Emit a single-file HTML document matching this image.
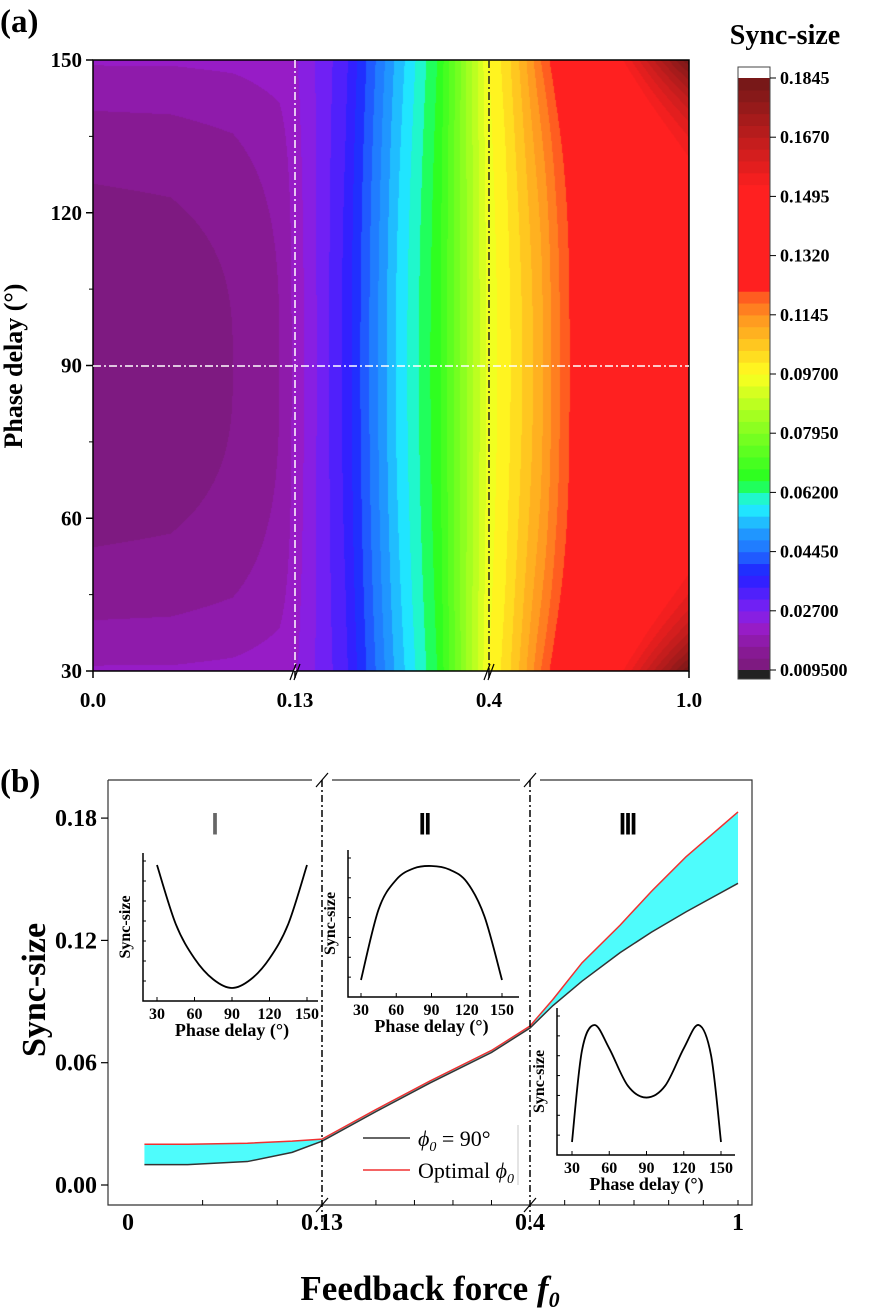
<!DOCTYPE html>
<html><head><meta charset="utf-8">
<style>
html,body{margin:0;padding:0;background:#fff;}
#wrap{position:relative;width:873px;height:1312px;overflow:hidden;font-family:"Liberation Serif",serif;}
canvas{position:absolute;left:93px;top:60px;}
svg{position:absolute;left:0;top:0;}
text{font-family:"Liberation Serif",serif;font-weight:bold;}
</style></head><body>
<div id="wrap">
<canvas id="heat" width="596" height="611"></canvas>
<svg id="svg" width="873" height="1312"></svg>
</div>
<script>
// ---- Panel (a) heatmap data ----
const heatF = [0,0.05,0.09,0.12,0.13,0.2,0.27,0.33,0.4,0.45,0.5,0.555,0.6,0.65,0.7,0.85,1.0];
const heatV90 = [0.011,0.0115,0.013,0.0165,0.021,0.035,0.055,0.068,0.095,0.099,0.104,0.110,0.1165,0.1225,0.128,0.138,0.146];
const heatVEdge = [0.0205,0.0205,0.021,0.022,0.023,0.033,0.052,0.066,0.097,0.102,0.109,0.118,0.124,0.130,0.138,0.160,0.184];
const cbTicks = ["0.1845","0.1670","0.1495","0.1320","0.1145","0.09700","0.07950","0.06200","0.04450","0.02700","0.009500"];
const cbTickVals = [0.1845,0.167,0.1495,0.132,0.1145,0.097,0.0795,0.062,0.0445,0.027,0.0095];
const aXTicks = ["0.0","0.13","0.4","1.0"];
const aXTickVals = [0,0.13,0.4,1.0];
const aYTicks = [150,120,90,60,30];
// ---- Panel (b) data ----
const bF = [0.011,0.04,0.08,0.11,0.13,0.2,0.27,0.35,0.4,0.466,0.55,0.66,0.75,0.85,1.0];
const bBlack = [0.010,0.010,0.0115,0.016,0.0215,0.036,0.050,0.065,0.077,0.088,0.100,0.114,0.124,0.134,0.148];
const bRed = [0.020,0.020,0.0205,0.0215,0.0225,0.037,0.051,0.066,0.078,0.091,0.109,0.1275,0.144,0.161,0.183];
const bYTicks = ["0.00","0.06","0.12","0.18"];
const bYTickVals = [0,0.06,0.12,0.18];
const bXTicks = ["0","0.13","0.4","1"];
const bXTickVals = [0,0.13,0.4,1];
const insetPhi = [30,45,60,75,90,105,120,135,150];
const inset1 = [1.0,0.52,0.24,0.07,0.0,0.07,0.24,0.52,1.0];
const inset2 = [0.0,0.62,0.88,0.98,1.0,0.97,0.86,0.56,0.0];
const inset3Phi = [30,38,48,60,75,90,105,120,132,142,150];
const inset3 = [0.0,0.78,1.0,0.8,0.48,0.38,0.48,0.8,1.0,0.74,0.0];
const insetTicks = [30,60,90,120,150];

const stops=[[0.0095,'#7a1a78'],[0.016,'#8a1a9a'],[0.022,'#981cc8'],[0.027,'#8020f0'],[0.034,'#4020ff'],[0.038,'#2020ff'],[0.0445,'#2070ff'],[0.05,'#2098ff'],[0.057,'#20e8ff'],[0.062,'#20ffb0'],[0.065,'#20ff20'],[0.0795,'#80ff20'],[0.09,'#c8ff20'],[0.097,'#ffff20'],[0.105,'#ffcc20'],[0.113,'#ff9a20'],[0.118,'#ff7020'],[0.1215,'#ff4a20'],[0.1225,'#ff2020'],[0.152,'#ff2020'],[0.1845,'#701818']];
function hex(h){return [parseInt(h.substr(1,2),16),parseInt(h.substr(3,2),16),parseInt(h.substr(5,2),16)];}
function cmap(v){
  if(v<=stops[0][0])return hex(stops[0][1]);
  for(let i=1;i<stops.length;i++){if(v<=stops[i][0]){const a=hex(stops[i-1][1]),b=hex(stops[i][1]);const t=(v-stops[i-1][0])/(stops[i][0]-stops[i-1][0]);return a.map((x,k)=>Math.round(x+(b[k]-x)*t));}}
  return hex(stops[stops.length-1][1]);
}
const LMIN=0.0095,LSTEP=0.0035,NL=50;
function bandColor(v){let i=Math.floor((v-LMIN)/LSTEP);i=Math.max(0,Math.min(NL-1,i));return cmap(LMIN+(i+0.5)*LSTEP);}
function interp(xs,ys,x){if(x<=xs[0])return ys[0];for(let i=1;i<xs.length;i++){if(x<=xs[i]){return ys[i-1]+(ys[i]-ys[i-1])*(x-xs[i-1])/(xs[i]-xs[i-1]);}}return ys[ys.length-1];}
function pw(f,x0,x1,x2,x3){if(f<=0.13)return x0+(x1-x0)*f/0.13;if(f<=0.4)return x1+(x2-x1)*(f-0.13)/0.27;return x2+(x3-x2)*(f-0.4)/0.6;}
function pwInv(x,x0,x1,x2,x3){if(x<=x1)return (x-x0)/(x1-x0)*0.13;if(x<=x2)return 0.13+(x-x1)/(x2-x1)*0.27;return 0.4+(x-x2)/(x3-x2)*0.6;}
const ax=f=>pw(f,93,295,489,689);
const ay=p=>60+(150-p)/120*611;
(function(){
  const c=document.getElementById('heat'),ctx=c.getContext('2d');const img=ctx.createImageData(596,611);
  for(let px=0;px<596;px++){const f=pwInv(93+px+0.5,93,295,489,689);const v9=interp(heatF,heatV90,f),ve=interp(heatF,heatVEdge,f);
    const pow=f<0.13?3:(f<0.5?2:2+(Math.min(f,0.8)-0.5)*8);
    for(let py=0;py<611;py++){const phi=150-(py+0.5)/611*120;const t=Math.abs((phi-90)/60);const p=Math.pow(t,pow);
      const col=bandColor(v9+(ve-v9)*p);const k=(py*596+px)*4;img.data[k]=col[0];img.data[k+1]=col[1];img.data[k+2]=col[2];img.data[k+3]=255;}}
  ctx.putImageData(img,0,0);
})();
const svg=document.getElementById('svg');const NS='http://www.w3.org/2000/svg';
function el(tag,attrs,txt){const e=document.createElementNS(NS,tag);for(const k in attrs)e.setAttribute(k,attrs[k]);if(txt!==undefined)e.textContent=txt;svg.appendChild(e);return e;}
let e;
e=el('text',{x:0,y:32,'font-size':33},'(a)');


e=el('rect',{x:93,y:60,width:596,height:611,fill:'none',stroke:'#000','stroke-width':1.5});


e=el('line',{x1:295,y1:60,x2:295,y2:671,stroke:'#fff','stroke-width':1.5,'stroke-dasharray':'8,3,2,3'});


e=el('line',{x1:489,y1:60,x2:489,y2:671,stroke:'#222','stroke-width':1.5,'stroke-dasharray':'8,3,2,3'});


e=el('line',{x1:93,y1:366,x2:689,y2:366,stroke:'#fff','stroke-width':1.5,'stroke-dasharray':'8,3,2,3'});


aYTicks.forEach(v=>{const y=ay(v);
  e=el('line',{x1:86,y1:y,x2:93,y2:y,stroke:'#000','stroke-width':1.5});
  
  
  e=el('text',{x:82,y:y+7,'font-size':21,'text-anchor':'end'},String(v));
  
  
});
[135,105,75,45].forEach(v=>{e=el('line',{x1:89,y1:ay(v),x2:93,y2:ay(v),stroke:'#000','stroke-width':1});});
aXTickVals.forEach((v,i)=>{const x=ax(v);
  e=el('line',{x1:x,y1:671,x2:x,y2:678,stroke:'#000','stroke-width':1.5});
  
  
  e=el('text',{x:x,y:707,'font-size':21,'text-anchor':'middle'},aXTicks[i]);
  
  
});
[295,489].forEach(x=>{e=el('path',{d:`M${x-5} ${680} L${x+1} ${664} M${x-1} ${680} L${x+5} ${664}`,stroke:'#000','stroke-width':1.2,fill:'none'});});
e=el('text',{x:0,y:0,'font-size':26,'text-anchor':'middle',transform:'translate(22,366) rotate(-90)'},'Phase delay (°)');


e=el('text',{x:785,y:44,'font-size':28,'text-anchor':'middle'},'Sync-size');


const cy=v=>670-(v-LMIN)/0.175*592;
e=el('rect',{x:738,y:67,width:32,height:11,fill:'#fff'});


for(let i=0;i<NL;i++){const v0=LMIN+i*LSTEP;const c=bandColor(v0+LSTEP/2);
  e=el('rect',{x:738,y:cy(v0+LSTEP),width:32,height:cy(v0)-cy(v0+LSTEP)+0.6,fill:`rgb(${c[0]},${c[1]},${c[2]})`});
  
  }
e=el('rect',{x:738,y:670,width:32,height:9,fill:'#222'});


e=el('rect',{x:738,y:67,width:32,height:612,fill:'none',stroke:'#444','stroke-width':1});


cbTickVals.forEach((v,i)=>{const y=cy(v);
  e=el('line',{x1:770,y1:y,x2:776,y2:y,stroke:'#000','stroke-width':1});
  
  
  e=el('text',{x:780,y:y+6,'font-size':18},cbTicks[i]);
  
  
});
// ---- Panel b ----
const bx=f=>pw(f,128,322,530,738);
const by=v=>1185-v/0.06*122.3;
e=el('text',{x:0,y:792,'font-size':33},'(b)');


e=el('path',{d:'M108 780 L108 1205 L752 1205 L752 780 L540 780 M520 780 L332 780 M312 780 L108 780',stroke:'#333','stroke-width':1.2,fill:'none'});


function smoothPts(P){let d=`M${P[0][0]} ${P[0][1]}`;for(let i=0;i<P.length-1;i++){const p0=P[Math.max(0,i-1)],p1=P[i],p2=P[i+1],p3=P[Math.min(P.length-1,i+2)];
  d+=` C${p1[0]+(p2[0]-p0[0])/6} ${p1[1]+(p2[1]-p0[1])/6} ${p2[0]-(p3[0]-p1[0])/6} ${p2[1]-(p3[1]-p1[1])/6} ${p2[0]} ${p2[1]}`;}return d;}
let pts=bF.map((f,i)=>`${bx(f)},${by(bRed[i])}`).concat(bF.slice().reverse().map((f,j)=>`${bx(f)},${by(bBlack[bF.length-1-j])}`));
e=el('polygon',{points:pts.join(' '),fill:'#4efcfc'});


e=el('polyline',{points:bF.map((f,i)=>`${bx(f)},${by(bBlack[i])}`).join(' '),fill:'none',stroke:'#333','stroke-width':1.5});


e=el('polyline',{points:bF.map((f,i)=>`${bx(f)},${by(bRed[i])}`).join(' '),fill:'none',stroke:'#f03030','stroke-width':1.5});


[322,530].forEach(x=>{
  e=el('line',{x1:x,y1:780,x2:x,y2:1225,stroke:'#000','stroke-width':1.5,'stroke-dasharray':'7,3,2,3'});
  
  
  [780,1205].forEach(y=>{e=el('line',{x1:x-6,y1:y+7,x2:x+6,y2:y-7,stroke:'#000','stroke-width':1.2});});
});
bYTickVals.forEach((v,i)=>{const y=by(v);
  e=el('line',{x1:101,y1:y,x2:108,y2:y,stroke:'#000','stroke-width':1.2});
  
  
  e=el('text',{x:97,y:y+8,'font-size':24,'text-anchor':'end'},bYTicks[i]);
  
  
});
bXTickVals.forEach((v,i)=>{
  e=el('text',{x:bx(v),y:1230,'font-size':24,'text-anchor':'middle'},bXTicks[i]);
  
  
});
[0.05,0.1,0.2,0.25,0.3,0.35,0.5,0.6,0.7,0.8,0.9,1].forEach(v=>{e=el('line',{x1:bx(v),y1:1205,x2:bx(v),y2:1200,stroke:'#000','stroke-width':1});});
e=el('text',{x:0,y:0,'font-size':34,'text-anchor':'middle',transform:'translate(45,990) rotate(-90)'},'Sync-size');


e=el('text',{x:430,y:1300,'font-size':35,'text-anchor':'middle'});


e.innerHTML='Feedback force <tspan font-style="italic">f</tspan><tspan font-style="italic" font-size="22" dy="7">0</tspan>';
[['Ⅰ',215,'#666'],['Ⅱ',425,'#000'],['Ⅲ',628,'#000']].forEach(r=>{
  e=el('text',{x:r[1],y:834,'font-size':28,'text-anchor':'middle',fill:r[2]},r[0]);
  
  
});
e=el('line',{x1:363,y1:1138,x2:410,y2:1138,stroke:'#333','stroke-width':1.5});


e=el('text',{x:418,y:1146,'font-size':22,style:'font-weight:normal'});


e.innerHTML='<tspan font-style="italic">ϕ</tspan><tspan font-style="italic" font-size="14" dy="5">0</tspan><tspan dy="-5"> = 90°</tspan>';
e=el('line',{x1:363,y1:1170,x2:410,y2:1170,stroke:'#f03030','stroke-width':1.5});


e=el('text',{x:418,y:1178,'font-size':22,style:'font-weight:normal'});


e.innerHTML='Optimal <tspan font-style="italic">ϕ</tspan><tspan font-style="italic" font-size="14" dy="5">0</tspan>';
e=el('line',{x1:518,y1:1125,x2:518,y2:1185,stroke:'#bbb','stroke-width':0.8});


function inset(name,axX,top,bot,right,x30,x150,yHi,yLo,phis,vals){
  const ix=p=>x30+(p-30)/120*(x150-x30);const iy=v=>yLo-(yLo-yHi)*v;
  e=el('path',{d:`M${axX} ${top} L${axX} ${bot} L${right} ${bot}`,stroke:'#000','stroke-width':1.5,fill:'none'});
  
  
  for(let k=0;k<7;k++){e=el('line',{x1:axX,y1:top+8+k*(bot-top-8)/7,x2:axX+3,y2:top+8+k*(bot-top-8)/7,stroke:'#000','stroke-width':1});}
  insetTicks.forEach(t=>{
    e=el('line',{x1:ix(t),y1:bot,x2:ix(t),y2:bot-4,stroke:'#000','stroke-width':1});
    
    
    e=el('text',{x:ix(t),y:bot+18,'font-size':16,'text-anchor':'middle'},String(t));
    
    
  });
  e=el('text',{x:(x30+x150)/2,y:bot+35,'font-size':18,'text-anchor':'middle'},'Phase delay (°)');
  
  
  e=el('text',{x:0,y:0,'font-size':16,'text-anchor':'middle',transform:`translate(${axX-13},${(top+bot)/2}) rotate(-90)`},'Sync-size');
  
  
  e=el('path',{d:smoothPts(phis.map((p,i)=>[ix(p),iy(vals[i])])),stroke:'#000','stroke-width':1.8,fill:'none'});
  
  
}
inset('inset-1',143,853,1001,318,157,307,865,988,insetPhi,inset1);
inset('inset-2',348,850,997,519,361,502,866,980,insetPhi,inset2);
inset('inset-3',557,1008,1155,735,572,721,1025,1142,inset3Phi,inset3);
</script>
</body></html>
